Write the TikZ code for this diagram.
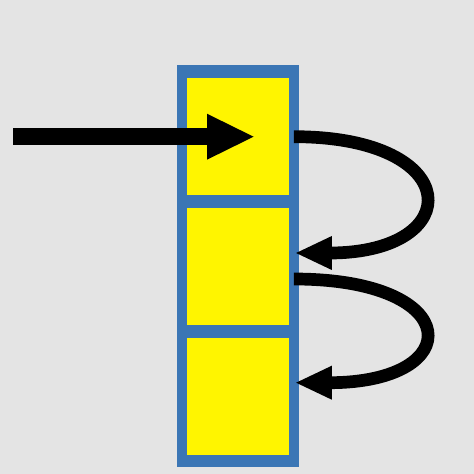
\documentclass[tikz,border=0pt]{standalone}
\usetikzlibrary{arrows.meta}
\definecolor{bgray}{HTML}{E4E4E4}
\definecolor{cellblue}{HTML}{3B76B5}
\definecolor{cellyellow}{HTML}{FFF500}
\begin{document}
\begin{tikzpicture}[x=1pt,y=-1pt,
  cell/.style={fill=cellyellow, draw=none, inner sep=0pt, minimum width=101.4pt, minimum height=116.7pt},
  bigarrow/.style={line width=17pt, -{Triangle[length=48pt,width=42pt]}},
  looparrow/.style={line width=12.7pt, -{Triangle[length=37pt,width=31pt]}}]
\useasboundingbox (0,0) rectangle (474,474);
\fill[bgray] (0,0) rectangle (474,474);
\fill[cellblue] (176.7,65) rectangle (299,466.7);
\node[cell] (box1) at (238,136.7) {};
\node[cell] (box2) at (238,266.7) {};
\node[cell] (box3) at (238,396.2) {};
\coordinate (src) at (13,136.7);
\draw[bigarrow] (src) -- ([xshift=17pt]box1.center);
\draw[looparrow] ([xshift=5pt]box1.east) .. controls +(172,0) and +(172,0) .. ([xshift=6pt,yshift=13.7pt]box2.east);
\draw[looparrow] ([xshift=5pt,yshift=-12.3pt]box2.east) .. controls +(172,0) and +(172,0) .. ([xshift=6pt,yshift=13.5pt]box3.east);
\end{tikzpicture}
\end{document}
